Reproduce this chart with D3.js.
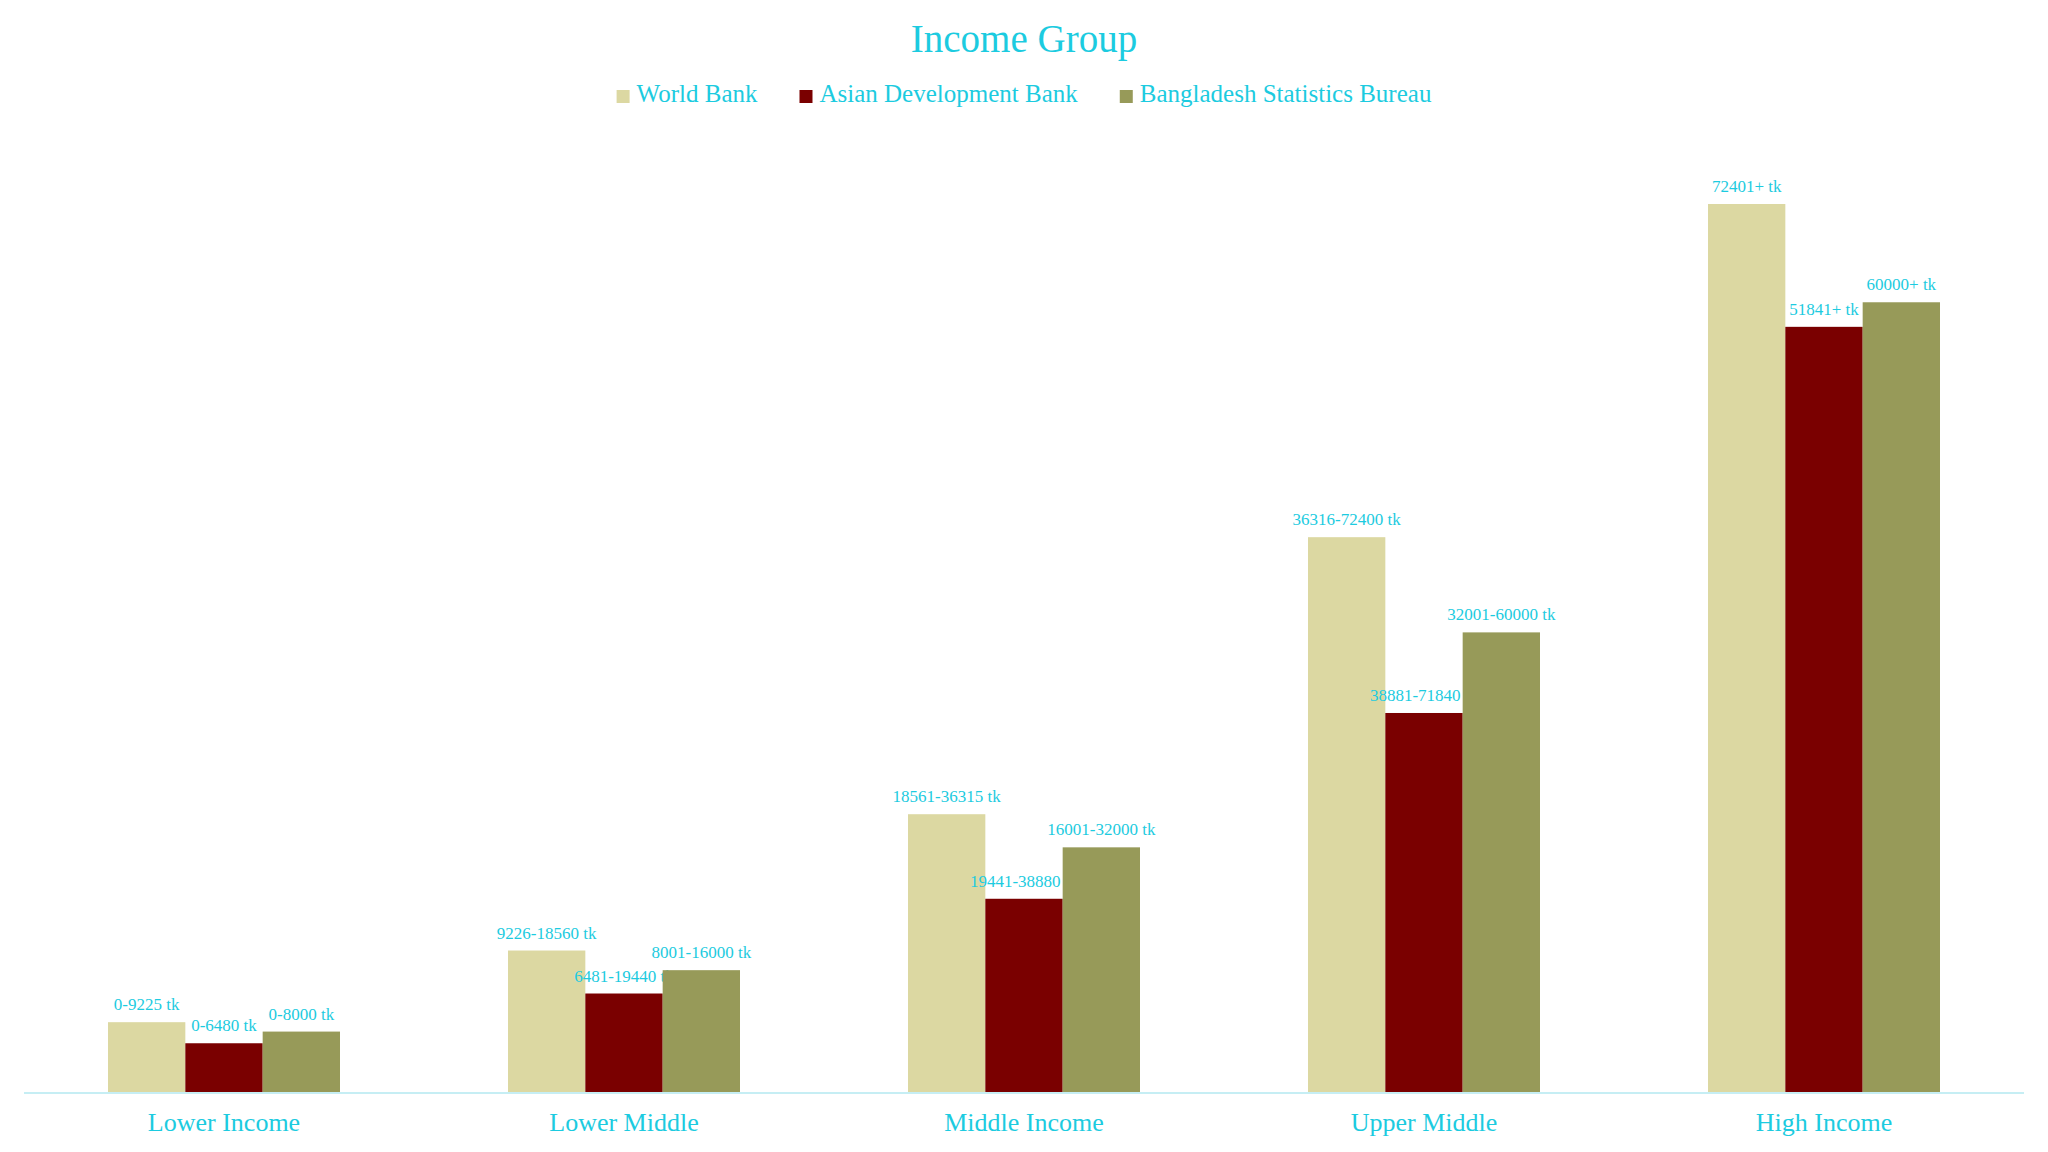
<html>
<head>
<script src="https://d3js.org/d3.v7.min.js"></script>
<style>body{margin:0;background:#fff}</style>
</head>
<body>
<svg id="chart" width="2048" height="1152"></svg>
<script>
var categories = ['Lower Income', 'Lower Middle', 'Middle Income', 'Upper Middle', 'High Income'];
var seriesNames = ['World Bank', 'Asian Development Bank', 'Bangladesh Statistics Bureau'];
var worldBank = [9225, 18560, 36315, 72400, 115800];
var asianDev = [6480, 12960, 25300, 49500, 99800];
var bbs = [8000, 16000, 32000, 60000, 103000];
var wbLabels = ['0-9225 tk', '9226-18560 tk', '18561-36315 tk', '36316-72400 tk', '72401+ tk'];
var adbLabels = ['0-6480 tk', '6481-19440 tk', '19441-38880 tk', '38881-71840 tk', '51841+ tk'];
var bbsLabels = ['0-8000 tk', '8001-16000 tk', '16001-32000 tk', '32001-60000 tk', '60000+ tk'];
var colors = ['#dcd8a2', '#7a0000', '#979a59'];

var values = [worldBank, asianDev, bbs];
var labels = [wbLabels, adbLabels, bbsLabels];
var cyan = '#1ccbe0';
var font = 'Liberation Serif, Times New Roman, serif';

var svg = d3.select('#chart');
var baseline = 1093;

var x = d3.scaleBand().domain(categories).range([24, 2024]).paddingInner(0.42).paddingOuter(0.21);
var xs = d3.scaleBand().domain([0, 1, 2]).range([0, x.bandwidth()]);
var y = d3.scaleLinear().domain([0, 115800]).range([baseline, baseline - 889]);

svg.append('text').attr('x', 1024).attr('y', 52).attr('text-anchor', 'middle')
    .attr('font-family', font).attr('font-size', 39).attr('fill', cyan).text('Income Group');

// legend
var legend = svg.append('g');
var lx = 0;
seriesNames.forEach(function(name, i) {
    var g = legend.append('g').attr('transform', 'translate(' + lx + ',0)');
    g.append('rect').attr('x', 0).attr('y', -8).attr('width', 13).attr('height', 13).attr('fill', colors[i]);
    var t = g.append('text').attr('x', 20).attr('y', 4).attr('font-family', font)
        .attr('font-size', 25).attr('fill', cyan).text(name);
    lx += 20 + t.node().getComputedTextLength() + 42;
});
lx -= 42;
legend.attr('transform', 'translate(' + (1024 - lx / 2) + ',98)');

values.forEach(function(vals, s) {
    svg.append('g').selectAll('rect').data(vals).enter().append('rect')
        .attr('x', function(d, i) { return x(categories[i]) + xs(s); })
        .attr('y', function(d) { return y(d); })
        .attr('width', xs.bandwidth())
        .attr('height', function(d) { return baseline - y(d); })
        .attr('fill', colors[s]);
    svg.append('g').selectAll('text').data(vals).enter().append('text')
        .attr('x', function(d, i) { return x(categories[i]) + xs(s) + xs.bandwidth() / 2; })
        .attr('y', function(d) { return y(d) - 12; })
        .attr('text-anchor', 'middle')
        .attr('font-family', font).attr('font-size', 17).attr('fill', cyan)
        .text(function(d, i) { return labels[s][i]; });
});

svg.append('line').attr('x1', 24).attr('x2', 2024).attr('y1', baseline).attr('y2', baseline)
    .attr('stroke', '#c6eef4').attr('stroke-width', 2);

var axis = svg.append('g').attr('transform', 'translate(0,' + baseline + ')')
    .call(d3.axisBottom(x).tickSize(0).tickPadding(20));
axis.select('.domain').remove();
axis.selectAll('text').attr('font-family', font).attr('font-size', 26).attr('fill', cyan);
</script>
</body>
</html>
